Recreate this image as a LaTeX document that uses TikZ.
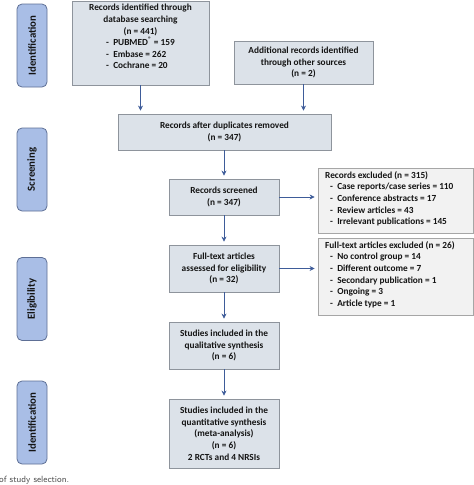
\documentclass[tikz,border=0pt]{standalone}
\usepackage{fontspec}
\setmainfont{Carlito}
\usetikzlibrary{arrows.meta,shadows}
\definecolor{boxfill}{HTML}{DCE2E9}
\definecolor{boxdraw}{HTML}{8E949C}
\definecolor{phasefill}{HTML}{A9BEE6}
\definecolor{phasedraw}{HTML}{5E6F95}
\definecolor{exfill}{HTML}{F2F2F2}
\definecolor{exdraw}{HTML}{A6A6A6}
\definecolor{arrowc}{HTML}{3E5C99}
\begin{document}
\begin{tikzpicture}[x=1pt,y=-1pt,
  every node/.style={font=\bfseries\fontsize{9.3}{11.7}\selectfont, inner sep=0pt, text=black!92},
  mainbox/.style={draw=boxdraw, fill=boxfill, line width=0.8pt, align=center},
  exbox/.style={draw=exdraw, fill=exfill, line width=0.8pt, align=left, text width=#1},
  phasebox/.style={draw=phasedraw, fill=phasefill, line width=0.8pt, rounded corners=5pt, minimum width=30pt, minimum height=83pt},
  phasetext/.style={rotate=90, font=\bfseries\fontsize{10.8}{12}\selectfont},
  arr/.style={draw=arrowc, line width=0.7pt, -{Stealth[length=5pt,width=5pt]}, shorten >=3pt}
]
\useasboundingbox (0,0) rectangle (474,485);
% phase boxes
\node[phasebox] (p1) at (32,45.5) {};
\node[phasetext] (p1t) at (p1.center) {Identification};
\node[phasebox] (p2) at (32,169.5) {};
\node[phasetext] (p2t) at (p2.center) {Screening};
\node[phasebox] (p3) at (32,299) {};
\node[phasetext] (p3t) at (p3.center) {Eligibility};
\node[phasebox] (p4) at (32,422.5) {};
\node[phasetext] (p4t) at (p4.center) {Identification};
% main boxes
\node[mainbox, minimum width=137pt, minimum height=84pt] (b1) at (140.5,43) {};
\node[align=center, anchor=north] (b1t) at (140.5,4) {Records identified through\\database searching\\(n = 441)\\[0.5pt]\begin{tabular}{@{}l@{}}- \ PUBMED\textsuperscript{®} = 159\\- \ Embase = 262\\- \ Cochrane = 20\end{tabular}};
\node[mainbox, minimum width=139pt, minimum height=43pt] (b2) at (303.5,62.5) {Additional records identified\\through other sources\\(n = 2)};
\node[mainbox, minimum width=213pt, minimum height=36pt] (dup) at (224.5,132) {Records after duplicates removed\\(n = 347)};
\node[mainbox, minimum width=110pt, minimum height=36pt] (scr) at (224,197) {Records screened\\(n = 347)};
\node[mainbox, minimum width=110pt, minimum height=47pt] (ft) at (224,268.5) {Full-text articles\\assessed for eligibility\\(n = 32)};
\node[mainbox, minimum width=110pt, minimum height=47pt] (qual) at (224,345.5) {Studies included in the\\qualitative synthesis\\(n = 6)};
\node[mainbox, minimum width=110pt, minimum height=69pt] (quant) at (224,433.5) {Studies included in the\\quantitative synthesis\\(meta-analysis)\\(n = 6)\\2 RCTs and 4 NRSIs};
% exclusion boxes
\node[exbox=155pt, minimum height=65pt, drop shadow={shadow xshift=1pt, shadow yshift=-1pt, fill=black!25, opacity=0.6}] (ex1) at (395.5,200.5) {};
\node[anchor=north west, align=left] (ex1t) at (325,171) {Records excluded (n = 315)\\\hspace*{5pt}- \ Case reports/case series = 110\\\hspace*{5pt}- \ Conference abstracts = 17\\\hspace*{5pt}- \ Review articles = 43\\\hspace*{5pt}- \ Irrelevant publications = 145};
\node[exbox=155pt, minimum height=77pt, drop shadow={shadow xshift=1pt, shadow yshift=-1pt, fill=black!25, opacity=0.6}] (ex2) at (395.5,276.5) {};
\node[anchor=north west, align=left] (ex2t) at (325,241) {Full-text articles excluded (n = 26)\\\hspace*{5pt}- \ No control group = 14\\\hspace*{5pt}- \ Different outcome = 7\\\hspace*{5pt}- \ Secondary publication = 1\\\hspace*{5pt}- \ Ongoing = 3\\\hspace*{5pt}- \ Article type = 1};
% arrows
\draw[arr] (b1.south) -- (b1.south |- dup.north);
\draw[arr] (b2.south) -- (b2.south |- dup.north);
\draw[arr] (dup.south -| scr.north) -- (scr.north);
\draw[arr] (scr.south) -- (ft.north);
\draw[arr] (ft.south) -- (qual.north);
\draw[arr] (qual.south) -- (quant.north);
\draw[arr] (scr.east) -- (scr.east -| ex1.west);
\draw[arr] (ft.east) -- (ft.east -| ex2.west);
% caption fragment
\node[anchor=west, font=\sffamily\fontsize{9}{10}\selectfont, text=black!70] (cap) at (-1,480) {of study selection.};
\end{tikzpicture}
\end{document}
